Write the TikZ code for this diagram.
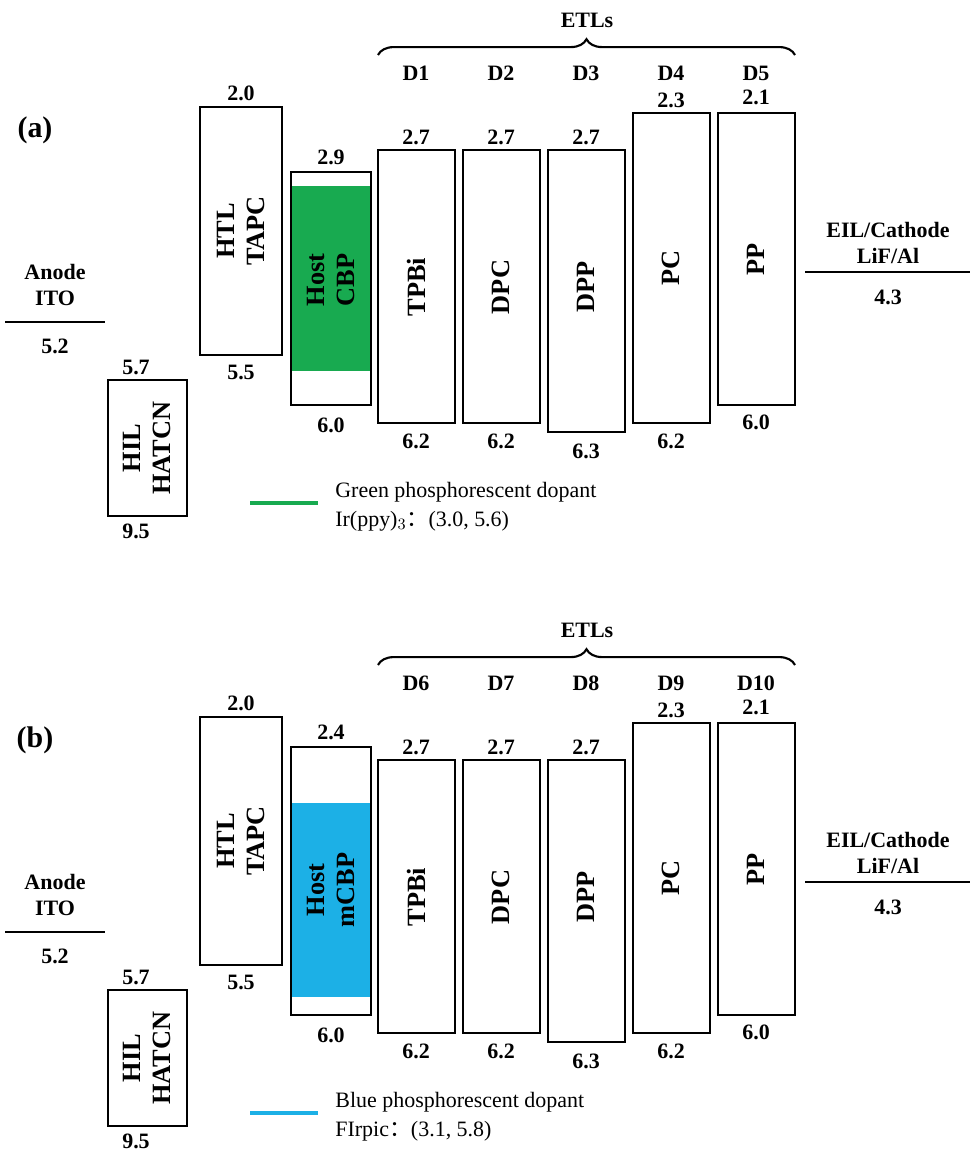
\documentclass[tikz,border=0pt]{standalone}
\usepackage{fontspec}
\setmainfont{Liberation Serif}
\newfontfamily\cjk{Noto Sans CJK SC}
\usetikzlibrary{decorations.pathreplacing}
\definecolor{dopgreen}{RGB}{24,170,80}
\definecolor{dopblue}{RGB}{28,176,230}

\begin{document}
\begin{tikzpicture}[x=0.02cm,y=-0.02cm,
  box/.style={draw,line width=1.6pt},
  lvl/.style={line width=1.6pt},
  num/.style={font=\fontsize{12.5}{14}\selectfont\bfseries,inner sep=0pt},
  lab/.style={font=\fontsize{15}{17}\selectfont\bfseries,rotate=90,align=center,inner sep=0pt},
  tag/.style={font=\fontsize{17}{19}\selectfont\bfseries,inner sep=0pt},
  leg/.style={font=\fontsize{12.5}{14}\selectfont,anchor=west,inner sep=0pt}]
  \useasboundingbox (0,0) rectangle (977,1163);
  \foreach \p/\dy/\hy/\hv/\fa/\fb/\fc/\host/\da/\db/\dc/\dd/\de/\dname/\dval/\dv in
    {a/0/172/2.9/186/371/dopgreen/CBP/D1/D2/D3/D4/D5/Green/{Ir(ppy)$_3$}/{3.0, 5.6},
     b/610/137/2.4/193/387/dopblue/mCBP/D6/D7/D8/D9/D10/Blue/FIrpic/{3.1, 5.8}}{
  \begin{scope}[shift={(0,\dy)}]
  % panel tag and ETL brace
  \node[tag] (tag\p) at (35,130) {(\p)};
  \draw[line width=1.2pt,decorate,decoration={brace,amplitude=9pt}]
    (378,55) -- (795,55);
  \node[num] (etl\p) at (587,20) {ETLs};
  % anode and cathode
  \draw[lvl] (5,322) -- (105,322);
  \node[num] (ano\p) at (55,272) {Anode};
  \node[num] (ito\p) at (55,298) {ITO};
  \node[num] (ea\p) at (55,346) {5.2};
  \draw[lvl] (805,272) -- (970,272);
  \node[num] (eil\p) at (888,230) {EIL/Cathode};
  \node[num] (lif\p) at (888,256) {LiF/Al};
  \node[num] (ec\p) at (888,297) {4.3};
  % HIL and HTL
  \draw[box] (108,380) rectangle (187,516);
  \node[lab] (hil\p) at (147,448) {HIL\\HATCN};
  \node[num] (hila\p) at (136,367) {5.7};
  \node[num] (hilb\p) at (136,531) {9.5};
  \draw[box] (200,107) rectangle (282,355);
  \node[lab] (htl\p) at (241,231) {HTL\\TAPC};
  \node[num] (htla\p) at (241,93) {2.0};
  \node[num] (htlb\p) at (241,372) {5.5};
  % host with dopant band
  \fill[\fc] (292,\fa) rectangle (370,\fb);
  \draw[box] (291,\hy) rectangle (371,405);
  \node[lab] (host\p) at (331,280) {Host\\\host};
  \node[num] (hosta\p) at (331,\hy-15) {\hv};
  \node[num] (hostb\p) at (331,425) {6.0};
  % ETLs
  \draw[box] (378,150) rectangle (455,423);
  \node[lab] (tpbi\p) at (416,287) {TPBi};
  \draw[box] (463,150) rectangle (540,423);
  \node[lab] (dpc\p) at (501,287) {DPC};
  \draw[box] (548,150) rectangle (625,432);
  \node[lab] (dpp\p) at (586,287) {DPP};
  \draw[box] (633,113) rectangle (710,423);
  \node[lab] (pc\p) at (671,268) {PC};
  \draw[box] (718,113) rectangle (795,405);
  \node[lab] (pp\p) at (756,259) {PP};
  \foreach \x/\dl/\tv/\yt/\bv/\yb [count=\k] in
    {416/\da/2.7/137/6.2/441, 501/\db/2.7/137/6.2/441, 586/\dc/2.7/137/6.3/451,
     671/\dd/2.3/100/6.2/441, 756/\de/2.1/97/6.0/422}{
    \node[num] (d\k\p) at (\x,73) {\dl};
    \node[num] (e\k\p) at (\x,\yt) {\tv};
    \node[num] (f\k\p) at (\x,\yb) {\bv};
  }
  % legend
  \draw[line width=2.5pt,\fc] (250,503) -- (318,503);
  \node[leg] (lga\p) at (335,492) {\dname\ phosphorescent dopant};
  \node[leg] (lgb\p) at (335,521) {\dval{\cjk ：}(\dv)};
  \end{scope}
  }
\end{tikzpicture}
\end{document}
